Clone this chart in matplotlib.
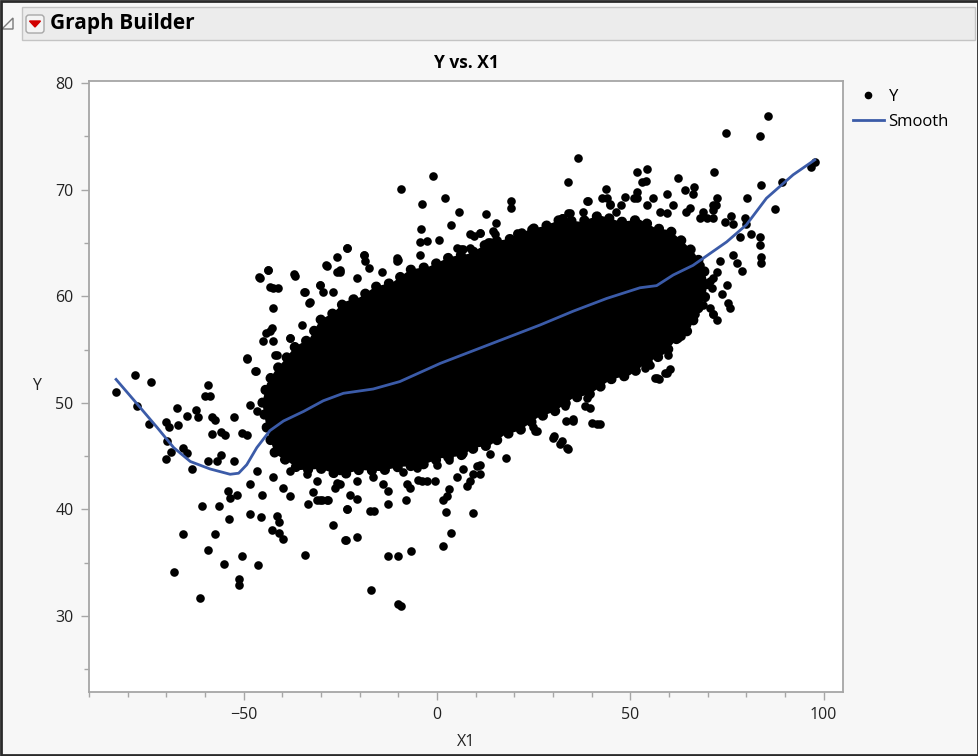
import numpy as np
import matplotlib
matplotlib.use('Agg')
import matplotlib.pyplot as plt
from matplotlib.patches import Rectangle, Polygon, FancyBboxPatch
from matplotlib.lines import Line2D
from matplotlib.ticker import MultipleLocator

plt.rcParams['font.family'] = ['Open Sans', 'DejaVu Sans']

# scattered points (X1, Y)
pts_x = [-82.9, -78.2, -73.9, -77.6, -74.6, -70, -69.3, -67, -69.7, -68.7, -70, -67.3, -65.7, -64.7,
         -64.7, -62.3, -61.9, -63.4, -59.1, -60, -58.7, -58.2, -57.5, -58.1, -55.8, -54.8, -59.3, -56.9,
         -55.9, -52.4, -52.5, -50.4, -49.2, -49.2, -46.9, -46, -43.7, -43.3, -41.2, -36.7, -44.3, -42.7,
         -42.4, -41.9, -38, -34.5, -33.1, -28.8, -25.8, -25.8, -23.3, -30.2, -29.4, -48.3, -46.6,
         -54.1, -53.5, -51.8, -60.8, -56.5, -53.7, -48.3, -45.5, -41.4, -40.8, -42.7, -40.8, -39.7,
         -45.3, -33.3, -30.2, -28.5, -26.8, -23.6, -34.1, -65.6, -57.4, -59.1, -67.9, -55.2, -50.5,
         -46.3, -51.3, -51.1, -61.2,
         -25.2, -18.8, -17.5, -18.6, -14.3, -9.3, -1, -3.8, 2.1, 5.8, 3.6, -4.1, -4.4, -2.7, 0.5, -10.2,
         6.2, 12.6, 15.2, 19.1, 19.1, 9.6, 11.1, 15, 13.3, 20.6, 24.3, 33.9, 36.5, 32.2, 33.9, 29.6, 18.2,
         51.6, 54.3, 52.9, 54, 62.4, 74.7, 83.5, 85.6, 71.6, 64.1, 66.4, 66.2, 43.7, 59.4, 83.7, 89.1,
         80.2, 87.3, 97.7, 96.6, 72.4, 72.1, 71.4, 79.6, 80, 81.3, 83.5, 83.6, 78.3, 83.9, 83.7, 76.1,
         76.6, 74.6, 76.6, 77.7, 79, 74.9, 73.8, 75.3, 75.7, 71.4, 72.3, 69.7, 71.4, 59.4, 43.9, 44.7,
         38.7, 37.8, 32.2, 51.6, 50.9, 48.6, 47.7, 55.9, 65.4, 68.8, 62.8, 63.6, 64.5, 60.2, 62.4, 70.5,
         71, 73.1, 72.3,
         -23.8, -20.6, -31.1, -29.8, -28.3, -23.3, -17.3, -16.3, -12.6, -8, -12.7, -10.2, -6.7, -17.1,
         -10.2, -9.4, 1.5, 3.6, 2.3, 1.5, 2.7, 3.2, 9.4, 11.1, 7.7, 8.5, 17.8, 13.7, 6.6, 3.1, 14.6, 25.3,
         25.9, 30.2, 32.2, 33.8, 33.3, 35.2, 40.1, 42.1, 38.2, 39.5, 33.1, 32.8, -12.6, -22.5, -20.7,
         -23.3, -26.4, -25.8, -32, -38, -39.7, -4.8, -4, -7, -8.7, -0.5, -0.1, 6.8, 10.3,
         13.7, 15.4, 6.6, 8.5, 20.6, 23.2, 20.6, 29.2, 32.6, 34.4, 39.1, 42.6, 44.7, 46.4, 51.6, 54.2,
         57.6, 61.1, 64.5, 68, 71.4, 35.2, 40.4, 48.1, 52.5, 61.1, 68, 71.4, 71.4, 68.8, 59.4, 55, 56.8,
         59.4, 47.3, 42.1, 38.7, 32.6, 35.2, 41.3, 30.1, 33.5, 31.8, 24.9, 25.8, 2.5, 11.1, 9.4, 5.1,
         -5.2, -2.7, -7.8, -16.5, -13.9, -20.7, -25.1, -31.1, -33.7, -38, -42.3, -46.6, -48.3,
         -49.2, -47, -44.9, -43.2, -38, -35, -41.4, -42.3, -45.7, -43.6, -37.1, -42.3, -34.1, -32.8,
         -28.5, -25.1, -23.3, -19, -20.7, -30.2, -26.8, -10.4, -10.4, -4.4, 0.8, 5.1, 8.5, 11.1, 14.5,
         70.5, 68, 66.7, 64.1, 63, 59.8, 60.2, 58.9, 56.3, 57.4, 54.6, 53.7, 47, 43.4, 52.9, 50.7]
pts_y = [51.0, 52.6, 52.0, 49.7, 48.0, 48.2, 47.7, 47.9, 46.4, 45.4, 44.7, 49.5, 45.8, 45.3,
         48.8, 49.3, 48.7, 43.8, 51.7, 50.6, 50.6, 48.7, 48.4, 47.1, 47.3, 47.0, 44.5, 44.5,
         45.1, 48.7, 44.5, 47.2, 47.0, 54.1, 53.0, 61.8, 62.5, 60.9, 60.8, 61.9, 56.6, 57.0,
         55.8, 54.5, 56.1, 60.4, 59.4, 62.9, 63.7, 62.3, 64.5, 61.1, 60.4, 49.8, 49.2,
         41.7, 41.1, 41.4, 40.3, 40.3, 39.1, 39.6, 39.3, 39.4, 38.8, 38.1, 37.8, 37.2,
         41.4, 40.5, 40.9, 40.9, 38.5, 37.1, 35.7, 37.7, 37.7, 36.2, 34.1, 34.9, 35.6,
         34.8, 33.5, 32.9, 31.7,
         62.5, 63.9, 62.7, 63.3, 62.3, 70.1, 71.3, 68.7, 69.2, 67.9, 66.7, 66.3, 65.1, 65.2, 65.3, 63.4,
         64.4, 67.7, 66.9, 68.9, 68.3, 65.7, 65.9, 65.8, 65.1, 65.9, 66.3, 70.7, 73.0, 67.3, 67.8, 66.4, 64.3,
         71.7, 71.9, 70.7, 70.8, 71.1, 75.3, 75.0, 76.9, 71.7, 70.0, 70.3, 69.6, 70.1, 69.6, 70.4, 70.7,
         69.2, 68.2, 72.6, 72.1, 69.2, 68.6, 68.1, 67.3, 66.8, 65.8, 65.6, 64.8, 65.6, 63.7, 63.1, 67.5,
         66.8, 67.0, 63.9, 63.1, 62.4, 61.1, 60.2, 59.4, 58.9, 58.3, 57.8, 67.3, 67.3, 67.8, 69.2, 68.7,
         68.9, 67.9, 67.3, 69.8, 69.2, 69.3, 68.6, 69.2, 68.3, 67.9, 59.2, 58.6, 57.6, 56.4, 56.1, 61.4,
         60.8, 63.3, 62.3,
         37.1, 37.4, 40.9, 40.9, 40.9, 40.0, 39.9, 39.9, 40.5, 40.9, 35.6, 35.6, 36.1, 32.4,
         31.1, 30.9, 36.6, 37.8, 39.8, 40.9, 41.3, 41.9, 39.7, 43.3, 42.2, 42.7, 44.8, 45.2, 45.3, 44.6, 47.0, 47.4,
         49.2, 46.9, 46.4, 45.7, 48.3, 48.5, 48.1, 48.0, 49.7, 49.5, 49.7, 50.2, 41.7, 41.4, 41.0,
         40.0, 42.0, 42.5, 41.6, 41.3, 42.0, 42.8, 42.7, 42.0, 43.5, 42.7, 44.2, 43.8, 44.1,
         65.1, 64.6, 64.4, 64.5, 65.8, 65.1, 64.8, 66.5, 67.3, 67.8, 68.9, 69.2, 68.6, 67.9, 69.2, 68.6,
         67.9, 68.6, 67.9, 67.3, 68.6, 65.1, 66.1, 66.4, 65.8, 65.1, 62.9, 61.7, 58.3, 59.2, 56.1, 53.6, 52.3,
         52.8, 53.0, 51.7, 50.5, 50.0, 48.3, 48.0, 46.7, 45.8, 46.1, 47.7, 47.4, 44.9, 44.2, 43.3, 43.0,
         43.9, 42.7, 42.4, 43.0, 42.4, 42.7, 42.4, 42.7, 43.3, 43.6, 43.0, 43.6, 42.4,
         54.2, 53.0, 55.8, 56.7, 56.1, 57.3, 54.5, 58.9, 61.7, 62.5, 62.1, 60.8, 60.4, 59.5,
         62.8, 62.3, 64.5, 63.9, 61.7, 61.1, 60.4, 63.6, 63.3, 63.9, 62.6, 64.5, 65.8, 65.9, 66.1,
         58.9, 59.2, 58.3, 57.3, 56.3, 54.5, 53.2, 52.8, 52.3, 52.2, 53.9, 53.3, 53.0, 53.1, 54.4, 54.8]

# outline of the dense black body of the cloud
core_x = [-45.2, -44.0, -41.9, -39.5, -36.7, -33.0, -30.2, -27.0, -23.8, -20.0, -16.0, -11.5, -7.0,
          -2.0, 3.4, 8.5, 13.7, 19.0, 24.0, 28.0, 31.8, 37.0, 42.1, 47.5, 52.5, 56.5, 60.2, 64.0,
          66.7, 69.0, 70.0, 69.3, 67.5, 65.4, 62.0, 58.9, 54.5, 49.9, 45.0, 39.5, 35.0, 30.5,
          26.0, 21.4, 17.5, 13.7, 10.0, 5.9, 1.0, -4.4, -9.5, -14.7, -20.0, -25.1, -30.0, -35.4,
          -39.0, -41.9, -44.0]
core_y = [50.0, 51.8, 53.0, 54.0, 55.3, 56.0, 57.8, 58.4, 59.5, 59.9, 60.9, 61.3, 62.5,
          62.8, 63.7, 64.0, 65.1, 65.4, 66.3, 66.6, 67.2, 67.0, 67.6, 67.0, 67.2, 66.4, 66.2, 65.0,
          64.0, 62.6, 61.2, 59.8, 58.8, 56.9, 56.0, 54.6, 53.8, 52.6, 52.2, 50.8, 50.4, 49.2,
          48.6, 47.4, 47.0, 46.0, 45.8, 45.0, 44.8, 44.1, 44.0, 43.6, 43.7, 43.2, 43.8, 43.7,
          44.6, 45.2, 47.5]

# smoother curve
smooth_x = [-83, -78.5, -72.4, -68.1, -63.8, -58.7, -53.5, -51.3, -49.2, -46.6, -43.2, -39.7,
            -34.5, -29.4, -24.2, -16.5, -9.6, 0.8, 13.7, 26.6, 35.2, 43.9, 52.5, 56.8, 61.1,
            66.2, 74.9, 80, 85.2, 92.1, 97.7]
smooth_y = [52.2, 50.3, 47.7, 45.8, 44.5, 43.8, 43.3, 43.4, 44.2, 45.8, 47.4, 48.3,
            49.2, 50.2, 50.9, 51.3, 52.0, 53.7, 55.5, 57.3, 58.6, 59.8, 60.8, 61.0, 62.0,
            62.9, 65.1, 66.7, 69.2, 71.4, 72.8]

W, H = 979, 756
fig = plt.figure(figsize=(W / 100, H / 100), dpi=100, facecolor='#f7f7f7')

# window chrome drawn in pixel coordinates
bg = fig.add_axes([0, 0, 1, 1])
bg.set_xlim(0, W)
bg.set_ylim(H, 0)
bg.axis('off')
bg.add_patch(Rectangle((22, 7), 953, 33, facecolor='#ececec', edgecolor='#c4c4c4', lw=1))
bg.add_patch(FancyBboxPatch((26, 15), 18, 18, boxstyle='round,pad=0,rounding_size=3',
                            facecolor='#f4f4f4', edgecolor='#a8a8a8', lw=1))
bg.add_patch(Polygon([(29.5, 21), (40.5, 21), (35, 27)], closed=True, color='#d10000'))
bg.add_patch(Polygon([(13, 18), (13, 29), (2, 29)], closed=True, facecolor='none',
                     edgecolor='#7a7a7a', lw=1))
bg.text(50, 24, 'Graph Builder', fontsize=15, fontweight='bold', va='center', ha='left')
bg.add_patch(Rectangle((1, 1), W - 2, H - 2, facecolor='none', edgecolor='#2a2a2a', lw=2))

ax = fig.add_axes([89 / W, 1 - 691.7 / H, (843 - 89) / W, (691.7 - 81) / H])
ax.set_facecolor('white')
# beaded edge so the body blends into the loose dots
ax.fill(core_x, core_y, facecolor='black', edgecolor='black', lw=7,
        ls=(0, (0.05, 1.3)), capstyle='round', zorder=2)
ax.plot(pts_x, pts_y, 'o', color='black', ms=6.2, mec='none', zorder=3)
ax.plot(smooth_x, smooth_y, color='#3b5ba8', lw=2, zorder=4)

ax.set_xlim(-90, 105)
ax.set_ylim(22.9, 80.2)
ax.xaxis.set_major_locator(MultipleLocator(50))
ax.xaxis.set_minor_locator(MultipleLocator(10))
ax.yaxis.set_major_locator(MultipleLocator(10))
ax.yaxis.set_minor_locator(MultipleLocator(5))
ax.set_yticks([30, 40, 50, 60, 70, 80])
for s in ax.spines.values():
    s.set_color('#a6a6a6')
    s.set_linewidth(1.3)
ax.tick_params(which='major', length=6, width=1, color='#a6a6a6', labelsize=11.5,
               labelcolor='#222222', pad=5)
ax.tick_params(which='minor', length=3.5, width=1, color='#a6a6a6')
ax.set_title('Y vs. X1', fontsize=12.5, fontweight='bold', pad=9)
ax.set_xlabel('X1', fontsize=11.5, color='#222222', labelpad=8)
ax.set_ylabel('Y', fontsize=11.5, color='#222222', rotation=0, labelpad=14, va='center')

handles = [Line2D([], [], ls='none', marker='o', color='black', ms=4.5),
           Line2D([], [], color='#3b5ba8', lw=2)]
ax.legend(handles, ['Y', 'Smooth'], loc='upper left', bbox_to_anchor=(846 / W, 1 - 82 / H),
          bbox_transform=fig.transFigure, frameon=False, fontsize=12, handlelength=1.9,
          handletextpad=0.25, labelspacing=0.55, borderaxespad=0)

fig.savefig('out.png', dpi=100, facecolor=fig.get_facecolor())
